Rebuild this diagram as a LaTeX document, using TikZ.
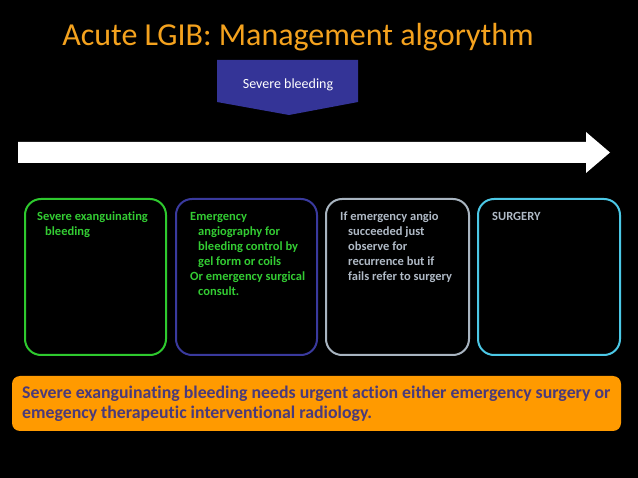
\documentclass[tikz,border=0pt]{standalone}
\usepackage{fontspec}
\setmainfont[Ligatures=NoCommon]{Carlito}
\definecolor{titleor}{HTML}{F4A21E}
\definecolor{pentblue}{HTML}{343497}
\definecolor{bgreen}{HTML}{2EC92E}
\definecolor{tgreen}{HTML}{33CC33}
\definecolor{bblue}{HTML}{3A3A9E}
\definecolor{bgray}{HTML}{A8B4C0}
\definecolor{tgray}{HTML}{B0BAC6}
\definecolor{bcyan}{HTML}{4CC8E6}
\definecolor{orfill}{HTML}{FF9A00}
\definecolor{purptext}{HTML}{4A3A7A}
\tikzset{
  stagebox/.style={draw, line width=2pt, rounded corners=16pt, minimum height=156pt, inner sep=0pt},
  stagetext/.style={anchor=north west, align=left, inner sep=0pt, font=\fontsize{12.5}{15}\selectfont\bfseries},
}
\begin{document}
\begin{tikzpicture}[x=1pt,y=1pt]
\fill[black] (0,0) rectangle (638,-478);
\useasboundingbox (0,0) rectangle (638,-478);
\node[text=titleor, font=\fontsize{32}{36}\selectfont, inner sep=0pt] (title) at (298,-37) {Acute LGIB: Management algorythm};
\fill[pentblue] (217,-60) -- (358,-60) -- (358,-102) -- (289,-115) -- (217,-102) -- cycle;
\node[text=white, font=\fontsize{14}{16}\selectfont, inner sep=0pt] (sev) at (288,-85) {Severe bleeding};
\fill[white] (18,-142) -- (586,-142) -- (586,-132) -- (610,-152.5) -- (586,-173) -- (586,-163) -- (18,-163) -- cycle;
\node[stagebox, draw=bgreen, minimum width=141pt] (b1) at (95.5,-277) {};
\node[stagebox, draw=bblue, minimum width=141pt] (b2) at (246.5,-277) {};
\node[stagebox, draw=bgray, minimum width=143pt] (b3) at (397.5,-277) {};
\node[stagebox, draw=bcyan, minimum width=142pt] (b4) at (549,-277) {};
\node[stagetext, text=tgreen] (t1) at (37,-212) {Severe exanguinating\\\hspace*{8pt}bleeding};
\node[stagetext, text=tgreen] (t2) at (190,-212) {Emergency\\\hspace*{8pt}angiography for\\\hspace*{8pt}bleeding control by\\\hspace*{8pt}gel form or coils\\Or emergency surgical\\\hspace*{8pt}consult.};
\node[stagetext, text=tgray] (t3) at (340,-212) {If emergency angio\\\hspace*{8pt}succeeded just\\\hspace*{8pt}observe for\\\hspace*{8pt}recurrence but if\\\hspace*{8pt}fails refer to surgery};
\node[stagetext, text=tgray] (t4) at (492,-212) {SURGERY};
\node[fill=orfill, rounded corners=8pt, minimum width=609pt, minimum height=55pt, inner sep=0pt] (bot) at (316.5,-403.5) {};
\node[anchor=west, align=left, inner sep=0pt, text=purptext, font=\fontsize{17.8}{20}\selectfont\bfseries] (bottext) at (22,-404) {Severe exanguinating bleeding needs urgent action either emergency surgery or\\emegency therapeutic interventional radiology.};
\end{tikzpicture}
\end{document}
